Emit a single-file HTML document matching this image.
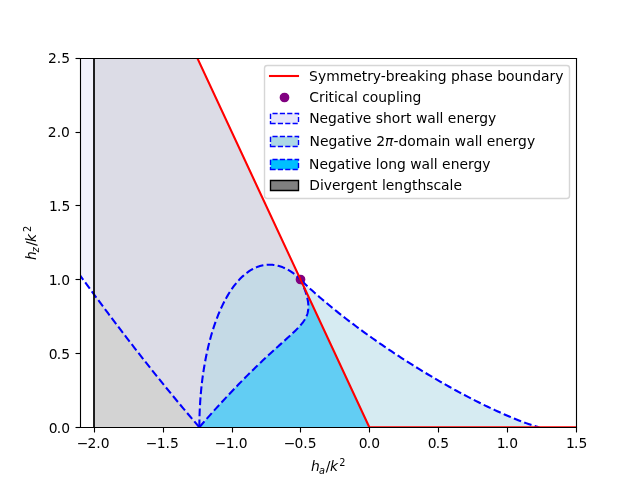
<!DOCTYPE html>
<html lang="en"><head><meta charset="utf-8"><title>Domain wall phase diagram</title>
<style>
html,body{margin:0;padding:0;background:#fff;}
svg{display:block;}
text{font-family:"DejaVu Sans","Liberation Sans",sans-serif;font-size:13.889px;fill:#000;}
.it{font-style:oblique;}
.s7{font-size:9.722px;}
.db{fill:none;stroke:#0000ff;stroke-width:2.083;stroke-dasharray:7.708 3.333;stroke-linecap:butt;stroke-linejoin:round;}
.tk{stroke:#000;stroke-width:1.111;fill:none;}
.sp{stroke:#000;stroke-width:1.111;fill:none;stroke-linecap:square;}
</style></head><body>
<svg width="640" height="480" viewBox="0 0 640 480">
<rect x="0" y="0" width="640" height="480" fill="#ffffff"/>
<defs><clipPath id="ax"><rect x="80" y="58" width="496.5" height="369.2"/></clipPath></defs>
<g clip-path="url(#ax)">
<path d="M93.78 427.20L93.78 -164.16L369.33 427.20Z" fill="#808080" fill-opacity="0.35"/>
<path d="M199.36 427.20L194.24 421.28L188.86 415.00L183.23 408.34L177.31 401.26L171.09 393.74L164.55 385.74L157.68 377.23L150.45 368.18L142.83 358.54L134.81 348.28L126.36 337.33L117.44 325.66L108.03 313.21L98.09 299.91L87.59 285.71L76.48 270.53L64.73 254.30L52.28 236.92L39.09 218.32L39.09 -281.51L369.33 427.20Z" fill="#e6e6fa" fill-opacity="0.5"/>
<path d="M199.36 427.20L199.38 422.89L199.45 418.59L199.57 414.30L199.74 410.01L199.95 405.75L200.21 401.50L200.51 397.28L200.86 393.09L201.26 388.93L201.69 384.81L202.18 380.73L202.70 376.69L203.27 372.70L203.88 368.76L204.53 364.87L205.22 361.04L205.94 357.27L206.70 353.57L207.50 349.92L208.34 346.35L209.20 342.84L210.10 339.41L211.03 336.05L211.99 332.77L212.98 329.56L213.99 326.44L215.03 323.39L216.09 320.42L217.18 317.54L218.28 314.74L219.41 312.02L220.56 309.39L221.72 306.84L222.90 304.38L224.09 302.00L225.30 299.71L226.52 297.50L227.75 295.37L228.99 293.33L230.23 291.37L231.49 289.49L232.75 287.70L234.01 285.98L235.28 284.34L236.55 282.78L237.82 281.30L239.09 279.90L240.36 278.56L241.62 277.31L242.89 276.12L244.15 275.00L245.41 273.95L246.66 272.97L247.90 272.05L249.14 271.20L250.37 270.40L251.60 269.67L252.81 269.00L254.01 268.38L255.21 267.82L256.39 267.30L257.56 266.85L258.72 266.44L259.87 266.07L261.00 265.76L262.13 265.48L263.23 265.25L264.33 265.07L265.41 264.91L266.47 264.80L267.52 264.72L268.56 264.68L269.58 264.67L270.59 264.69L271.58 264.74L272.55 264.82L273.51 264.92L274.45 265.05L275.37 265.20L276.28 265.37L277.17 265.57L278.05 265.78L278.91 266.01L279.75 266.26L280.57 266.52L281.38 266.80L282.17 267.09L282.95 267.39L283.71 267.70L284.45 268.03L285.17 268.36L285.88 268.70L286.57 269.04L287.24 269.39L287.90 269.75L288.54 270.11L289.16 270.47L289.77 270.83L290.36 271.20L290.93 271.56L291.49 271.93L292.02 272.29L292.55 272.65L293.05 273.01L293.54 273.37L294.02 273.72L294.47 274.06L294.91 274.41L295.34 274.74L295.74 275.07L296.13 275.39L296.51 275.70L296.87 276.00L297.21 276.30L297.53 276.58L297.84 276.85L298.13 277.11L298.40 277.37L298.66 277.60L298.90 277.83L299.13 278.04L299.33 278.24L299.52 278.43L299.69 278.60L299.85 278.75L299.99 278.89L300.11 279.01L300.21 279.11L300.29 279.20L300.36 279.27L300.41 279.32L300.43 279.35L300.44 279.36L300.44 279.36L302.85 281.80L305.25 284.14L307.65 286.41L310.05 288.64L312.45 290.83L314.85 292.98L317.25 295.10L319.65 297.19L322.05 299.25L324.45 301.29L326.85 303.30L329.25 305.29L331.65 307.27L334.05 309.22L336.45 311.15L338.85 313.07L341.26 314.96L343.66 316.84L346.06 318.71L348.46 320.55L350.86 322.39L353.26 324.20L355.66 326.01L358.06 327.79L360.46 329.57L362.86 331.33L365.26 333.07L367.66 334.81L370.06 336.53L372.46 338.23L374.86 339.93L377.27 341.61L379.67 343.28L382.07 344.94L384.47 346.58L386.87 348.22L389.27 349.84L391.67 351.45L394.07 353.05L396.47 354.63L398.87 356.21L401.27 357.77L403.67 359.33L406.07 360.87L408.47 362.40L410.87 363.92L413.28 365.43L415.68 366.93L418.08 368.41L420.48 369.89L422.88 371.36L425.28 372.81L427.68 374.25L430.08 375.69L432.48 377.11L434.88 378.52L437.28 379.92L439.68 381.31L442.08 382.69L444.48 384.06L446.88 385.42L449.29 386.76L451.69 388.10L454.09 389.42L456.49 390.73L458.89 392.04L461.29 393.33L463.69 394.61L466.09 395.87L468.49 397.13L470.89 398.37L473.29 399.60L475.69 400.83L478.09 402.03L480.49 403.23L482.89 404.41L485.30 405.58L487.70 406.74L490.10 407.88L492.50 409.01L494.90 410.13L497.30 411.23L499.70 412.32L502.10 413.39L504.50 414.44L506.90 415.48L509.30 416.51L511.70 417.51L514.10 418.50L516.50 419.47L518.90 420.42L521.30 421.34L523.71 422.24L526.11 423.12L528.51 423.96L530.91 424.78L533.31 425.55L535.71 426.28L538.11 426.93L539.31 427.20Z" fill="#add8e6" fill-opacity="0.5"/>
<path d="M199.36 427.20L203.04 422.99L206.60 418.95L210.03 415.09L213.35 411.39L216.56 407.85L219.65 404.46L222.65 401.21L225.54 398.09L228.34 395.10L231.05 392.23L233.66 389.48L236.20 386.84L238.65 384.31L241.02 381.88L243.32 379.54L245.54 377.30L247.69 375.14L249.78 373.07L251.80 371.08L253.76 369.16L255.66 367.32L257.49 365.54L259.28 363.83L261.00 362.19L262.68 360.60L264.30 359.07L265.88 357.60L267.40 356.18L268.88 354.81L270.32 353.48L271.71 352.20L273.07 350.97L274.38 349.78L275.65 348.62L276.88 347.51L278.08 346.43L279.24 345.38L280.37 344.37L281.47 343.39L282.53 342.44L283.56 341.51L284.56 340.62L285.53 339.74L286.47 338.90L287.38 338.07L288.27 337.27L289.13 336.49L289.96 335.73L290.77 334.99L291.55 334.26L292.31 333.56L293.05 332.86L293.76 332.19L294.45 331.53L295.12 330.88L295.77 330.24L296.40 329.62L297.01 329.01L297.60 328.40L298.17 327.81L298.72 327.23L299.25 326.65L299.76 326.09L300.26 325.53L300.74 324.97L301.20 324.43L301.65 323.89L302.08 323.35L302.49 322.82L302.89 322.29L303.27 321.77L303.63 321.24L303.98 320.73L304.32 320.21L304.64 319.69L304.95 319.18L305.24 318.67L305.52 318.16L305.79 317.64L306.04 317.13L306.28 316.62L306.51 316.10L306.72 315.58L306.92 315.07L307.10 314.55L307.28 314.02L307.44 313.49L307.58 312.96L307.72 312.43L307.84 311.89L307.95 311.35L308.05 310.80L308.13 310.25L308.20 309.69L308.26 309.12L308.31 308.55L308.35 307.98L308.37 307.39L308.38 306.80L308.38 306.20L308.36 305.59L308.33 304.97L308.29 304.35L308.24 303.71L308.18 303.07L308.10 302.41L308.01 301.75L307.90 301.07L307.79 300.39L307.65 299.69L307.51 298.98L307.35 298.26L307.18 297.52L306.99 296.77L306.79 296.01L306.58 295.23L306.35 294.44L306.11 293.64L305.85 292.81L305.57 291.98L305.28 291.12L304.98 290.25L304.65 289.36L304.31 288.45L303.96 287.53L303.59 286.58L303.19 285.62L302.78 284.63L302.36 283.62L301.91 282.60L301.44 281.54L300.96 280.47L300.45 279.37L369.33 427.20Z" fill="#00bfff" fill-opacity="0.5"/>
<circle cx="300.50" cy="279.50" r="4.167" fill="#800080" stroke="#800080" stroke-width="1.389"/>
<path class="db" d="M199.36 427.20L194.24 421.28L188.86 415.00L183.23 408.34L177.31 401.26L171.09 393.74L164.55 385.74L157.68 377.23L150.45 368.18L142.83 358.54L134.81 348.28L126.36 337.33L117.44 325.66L108.03 313.21L98.09 299.91L87.59 285.71L76.48 270.53L64.73 254.30L52.28 236.92L39.09 218.32"/>
<path class="db" d="M199.36 427.20L199.38 422.89L199.45 418.59L199.57 414.30L199.74 410.01L199.95 405.75L200.21 401.50L200.51 397.28L200.86 393.09L201.26 388.93L201.69 384.81L202.18 380.73L202.70 376.69L203.27 372.70L203.88 368.76L204.53 364.87L205.22 361.04L205.94 357.27L206.70 353.57L207.50 349.92L208.34 346.35L209.20 342.84L210.10 339.41L211.03 336.05L211.99 332.77L212.98 329.56L213.99 326.44L215.03 323.39L216.09 320.42L217.18 317.54L218.28 314.74L219.41 312.02L220.56 309.39L221.72 306.84L222.90 304.38L224.09 302.00L225.30 299.71L226.52 297.50L227.75 295.37L228.99 293.33L230.23 291.37L231.49 289.49L232.75 287.70L234.01 285.98L235.28 284.34L236.55 282.78L237.82 281.30L239.09 279.90L240.36 278.56L241.62 277.31L242.89 276.12L244.15 275.00L245.41 273.95L246.66 272.97L247.90 272.05L249.14 271.20L250.37 270.40L251.60 269.67L252.81 269.00L254.01 268.38L255.21 267.82L256.39 267.30L257.56 266.85L258.72 266.44L259.87 266.07L261.00 265.76L262.13 265.48L263.23 265.25L264.33 265.07L265.41 264.91L266.47 264.80L267.52 264.72L268.56 264.68L269.58 264.67L270.59 264.69L271.58 264.74L272.55 264.82L273.51 264.92L274.45 265.05L275.37 265.20L276.28 265.37L277.17 265.57L278.05 265.78L278.91 266.01L279.75 266.26L280.57 266.52L281.38 266.80L282.17 267.09L282.95 267.39L283.71 267.70L284.45 268.03L285.17 268.36L285.88 268.70L286.57 269.04L287.24 269.39L287.90 269.75L288.54 270.11L289.16 270.47L289.77 270.83L290.36 271.20L290.93 271.56L291.49 271.93L292.02 272.29L292.55 272.65L293.05 273.01L293.54 273.37L294.02 273.72L294.47 274.06L294.91 274.41L295.34 274.74L295.74 275.07L296.13 275.39L296.51 275.70L296.87 276.00L297.21 276.30L297.53 276.58L297.84 276.85L298.13 277.11L298.40 277.37L298.66 277.60L298.90 277.83L299.13 278.04L299.33 278.24L299.52 278.43L299.69 278.60L299.85 278.75L299.99 278.89L300.11 279.01L300.21 279.11L300.29 279.20L300.36 279.27L300.41 279.32L300.43 279.35L300.44 279.36"/>
<path class="db" d="M199.36 427.20L203.04 422.99L206.60 418.95L210.03 415.09L213.35 411.39L216.56 407.85L219.65 404.46L222.65 401.21L225.54 398.09L228.34 395.10L231.05 392.23L233.66 389.48L236.20 386.84L238.65 384.31L241.02 381.88L243.32 379.54L245.54 377.30L247.69 375.14L249.78 373.07L251.80 371.08L253.76 369.16L255.66 367.32L257.49 365.54L259.28 363.83L261.00 362.19L262.68 360.60L264.30 359.07L265.88 357.60L267.40 356.18L268.88 354.81L270.32 353.48L271.71 352.20L273.07 350.97L274.38 349.78L275.65 348.62L276.88 347.51L278.08 346.43L279.24 345.38L280.37 344.37L281.47 343.39L282.53 342.44L283.56 341.51L284.56 340.62L285.53 339.74L286.47 338.90L287.38 338.07L288.27 337.27L289.13 336.49L289.96 335.73L290.77 334.99L291.55 334.26L292.31 333.56L293.05 332.86L293.76 332.19L294.45 331.53L295.12 330.88L295.77 330.24L296.40 329.62L297.01 329.01L297.60 328.40L298.17 327.81L298.72 327.23L299.25 326.65L299.76 326.09L300.26 325.53L300.74 324.97L301.20 324.43L301.65 323.89L302.08 323.35L302.49 322.82L302.89 322.29L303.27 321.77L303.63 321.24L303.98 320.73L304.32 320.21L304.64 319.69L304.95 319.18L305.24 318.67L305.52 318.16L305.79 317.64L306.04 317.13L306.28 316.62L306.51 316.10L306.72 315.58L306.92 315.07L307.10 314.55L307.28 314.02L307.44 313.49L307.58 312.96L307.72 312.43L307.84 311.89L307.95 311.35L308.05 310.80L308.13 310.25L308.20 309.69L308.26 309.12L308.31 308.55L308.35 307.98L308.37 307.39L308.38 306.80L308.38 306.20L308.36 305.59L308.33 304.97L308.29 304.35L308.24 303.71L308.18 303.07L308.10 302.41L308.01 301.75L307.90 301.07L307.79 300.39L307.65 299.69L307.51 298.98L307.35 298.26L307.18 297.52L306.99 296.77L306.79 296.01L306.58 295.23L306.35 294.44L306.11 293.64L305.85 292.81L305.57 291.98L305.28 291.12L304.98 290.25L304.65 289.36L304.31 288.45L303.96 287.53L303.59 286.58L303.19 285.62L302.78 284.63L302.36 283.62L301.91 282.60L301.44 281.54L300.96 280.47L300.45 279.37"/>
<path class="db" d="M300.44 279.36L302.85 281.80L305.25 284.14L307.65 286.41L310.05 288.64L312.45 290.83L314.85 292.98L317.25 295.10L319.65 297.19L322.05 299.25L324.45 301.29L326.85 303.30L329.25 305.29L331.65 307.27L334.05 309.22L336.45 311.15L338.85 313.07L341.26 314.96L343.66 316.84L346.06 318.71L348.46 320.55L350.86 322.39L353.26 324.20L355.66 326.01L358.06 327.79L360.46 329.57L362.86 331.33L365.26 333.07L367.66 334.81L370.06 336.53L372.46 338.23L374.86 339.93L377.27 341.61L379.67 343.28L382.07 344.94L384.47 346.58L386.87 348.22L389.27 349.84L391.67 351.45L394.07 353.05L396.47 354.63L398.87 356.21L401.27 357.77L403.67 359.33L406.07 360.87L408.47 362.40L410.87 363.92L413.28 365.43L415.68 366.93L418.08 368.41L420.48 369.89L422.88 371.36L425.28 372.81L427.68 374.25L430.08 375.69L432.48 377.11L434.88 378.52L437.28 379.92L439.68 381.31L442.08 382.69L444.48 384.06L446.88 385.42L449.29 386.76L451.69 388.10L454.09 389.42L456.49 390.73L458.89 392.04L461.29 393.33L463.69 394.61L466.09 395.87L468.49 397.13L470.89 398.37L473.29 399.60L475.69 400.83L478.09 402.03L480.49 403.23L482.89 404.41L485.30 405.58L487.70 406.74L490.10 407.88L492.50 409.01L494.90 410.13L497.30 411.23L499.70 412.32L502.10 413.39L504.50 414.44L506.90 415.48L509.30 416.51L511.70 417.51L514.10 418.50L516.50 419.47L518.90 420.42L521.30 421.34L523.71 422.24L526.11 423.12L528.51 423.96L530.91 424.78L533.31 425.55L535.71 426.28L538.11 426.93L539.31 427.20" stroke-dashoffset="-2.1"/>
<path d="M94 40V440" stroke="#000" stroke-width="1.736" fill="none"/>
<path d="M93.78 -164.16L369.33 427.20L576.00 427.20" stroke="#ff0000" stroke-width="2.083" fill="none" stroke-linejoin="round" stroke-linecap="square"/>
</g>

<path class="tk" d="M94.5 427.5V432.5"/>
<text x="93.09" y="447.60" text-anchor="middle">−<tspan dx="-0.8">2.0</tspan></text>
<path class="tk" d="M163.5 427.5V432.5"/>
<text x="162.29" y="447.61" text-anchor="middle">−<tspan dx="-0.8">1.5</tspan></text>
<path class="tk" d="M232.5 427.5V432.5"/>
<text x="231.25" y="447.60" text-anchor="middle">−<tspan dx="-0.8">1.0</tspan></text>
<path class="tk" d="M300.5 427.5V432.5"/>
<text x="300.13" y="447.77" text-anchor="middle">−<tspan dx="-0.8">0.5</tspan></text>
<path class="tk" d="M369.5 427.5V432.5"/>
<text x="369.46" y="447.84" text-anchor="middle">0<tspan dx="-0.8">.0</tspan></text>
<path class="tk" d="M438.5 427.5V432.5"/>
<text x="438.45" y="447.84" text-anchor="middle">0<tspan dx="-0.8">.5</tspan></text>
<path class="tk" d="M507.5 427.5V432.5"/>
<text x="507.44" y="447.65" text-anchor="middle">1<tspan dx="-0.8">.0</tspan></text>
<path class="tk" d="M576.5 427.5V432.5"/>
<text x="576.73" y="447.67" text-anchor="middle">1<tspan dx="-0.8">.5</tspan></text>
<path class="tk" d="M80.5 427.5H75.5"/>
<text x="70.00" y="432.84" text-anchor="end">0<tspan dx="-0.8">.0</tspan></text>
<path class="tk" d="M80.5 353.5H75.5"/>
<text x="70.11" y="358.92" text-anchor="end">0<tspan dx="-0.8">.5</tspan></text>
<path class="tk" d="M80.5 279.5H75.5"/>
<text x="70.08" y="284.81" text-anchor="end">1<tspan dx="-0.8">.0</tspan></text>
<path class="tk" d="M80.5 205.5H75.5"/>
<text x="70.30" y="210.91" text-anchor="end">1<tspan dx="-0.8">.5</tspan></text>
<path class="tk" d="M80.5 132.5H75.5"/>
<text x="69.94" y="136.97" text-anchor="end">2.0</text>
<path class="tk" d="M80.5 58.5H75.5"/>
<text x="70.10" y="62.57" text-anchor="end">2.5</text>
<path class="sp" d="M80.5 427.5V58.5"/><path class="sp" d="M576.5 427.5V58.5"/><path class="sp" d="M80.5 427.5H576.5"/><path class="sp" d="M80.5 58.5H576.5"/>
<g transform="translate(310.29 472.76)"><text><tspan class="it" x="0.625" y="-1.356">h</tspan><tspan class="it s7" x="8.803" y="0.922">a</tspan><tspan x="15.557" y="-1.356">/</tspan><tspan class="it" x="19.819" y="-1.356">k</tspan><tspan class="s7" x="28.896" y="-6.673">2</tspan></text></g>
<g transform="translate(37.67 260.10) rotate(-90)"><text><tspan class="it" x="0.000" y="-1.356">h</tspan><tspan class="it s7" x="7.969" y="0.922">z</tspan><tspan x="14.147" y="-1.356">/</tspan><tspan class="it" x="18.132" y="-1.356">k</tspan><tspan class="s7" x="28.042" y="-6.673">2</tspan></text></g>
<path d="M267.28 198.50H566.72Q569.50 198.50 569.50 195.72V68.28Q569.50 65.50 566.72 65.50H267.28Q264.50 65.50 264.50 68.28V195.72Q264.50 198.50 267.28 198.50Z" fill="#fff" stroke="#cccccc" stroke-width="1.389" opacity="0.8"/>
<path d="M270 76H298" stroke="#ff0000" stroke-width="2.083" stroke-linecap="square" fill="none"/>
<circle cx="284.5" cy="97.5" r="4.167" fill="#800080" stroke="#800080" stroke-width="1.389"/>
<path d="M270.50 123.50H298.50V113.50H270.50Z" fill="#e6e6fa" stroke="#0000ff" stroke-width="1.389" stroke-linejoin="miter" stroke-dasharray="5.139 2.222"/>
<path d="M270.50 146.50H298.50V136.50H270.50Z" fill="#add8e6" stroke="#0000ff" stroke-width="1.389" stroke-linejoin="miter" stroke-dasharray="5.139 2.222"/>
<path d="M270.50 169.50H298.50V159.50H270.50Z" fill="#00bfff" stroke="#0000ff" stroke-width="1.389" stroke-linejoin="miter" stroke-dasharray="5.139 2.222"/>
<path d="M270.50 190.50H298.50V180.50H270.50Z" fill="#808080" stroke="#000000" stroke-width="1.389" stroke-linejoin="miter"/>
<text x="309.12" y="80.68">Symmetry-breaking phase boundary</text>
<text x="309.28" y="101.67">Critical coupling</text>
<text x="309.15" y="122.57">Negative short wall energy</text>
<text x="309.54" y="145.55">Negative 2<tspan class="it">π</tspan>-domain wall energy</text>
<text x="309.12" y="168.95">Negative long wall energy</text>
<text x="309.23" y="189.90">Divergent lengthscale</text>
</svg>
</body></html>
